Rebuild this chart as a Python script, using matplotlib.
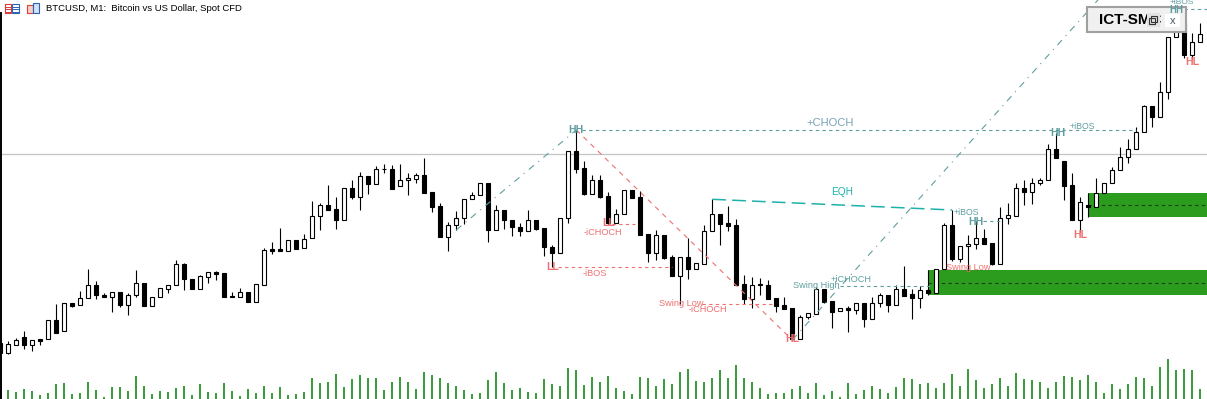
import matplotlib.pyplot as plt
from matplotlib.patches import Rectangle

# one-minute BTCUSD bars (price in chart points, higher = up)
opens = [57, 47.3, 55.3, 62.7, 55.3, 60.7, 60.7, 80, 69.3, 96.7,
         94.7, 101.7, 114.7, 105, 102.7, 107.7, 95.3, 104.7, 116.7, 94.3,
         102.7, 111.3, 114.7, 135.7, 120.7, 111.3, 123.3, 127.7, 126.7, 104,
         103.3, 107.7, 98.3, 115.3, 151, 151, 148.7, 160, 151.7, 162.3,
         183.7, 194.7, 190.7, 180.3, 211.7, 203.3, 223.7, 216.3, 230.7, 230.7,
         214.3, 219.7, 221.3, 225.3, 208, 194, 163.3, 174.7, 181.7, 200.7,
         204.7, 216.7, 169.7, 189.7, 179.7, 172.7, 168.7, 179.7, 172, 152.7,
         146.7, 181.7, 248.7, 231.7, 206.3, 219.7, 204, 177.3, 186.3, 209.7,
         202.7, 166, 147.3, 164.7, 143, 124.3, 143, 131.3, 136.3, 168.7,
         185.7, 176.7, 174.7, 116, 100.7, 115, 115, 101.7, 94.7, 91.7,
         60.7, 82.7, 86.3, 111, 99, 88.7, 92.3, 89.7, 96.7, 81.3,
         96.7, 104.7, 95.3, 111, 106, 101.7, 110, 107.3, 130.7, 174.7,
         141.3, 153.7, 155.7, 161.7, 156.7, 136.5, 181.7, 183.7, 211.7, 208.5,
         217.5, 220, 250.7, 239, 215, 180.3, 195, 193.3, 206.7, 217.3,
         230, 242.7, 250.7, 267.7, 294, 283.3, 307.7, 362.7, 378, 345,
         357.7]
highs = [59, 58.7, 62, 68.7, 60, 60.7, 80, 96, 96.7, 96.7,
         109, 131, 119, 107.3, 107.7, 107.7, 107, 130, 116.7, 102.7,
         111.7, 114.7, 140, 137, 120.7, 125, 127.7, 129, 126.7, 108.3,
         111.7, 107.7, 116, 151.7, 157.7, 172, 160, 160, 166, 199,
         197.3, 215, 203, 211.7, 220, 228, 223.7, 234, 236, 235,
         236, 226.7, 227.3, 242, 208, 196.7, 178, 189, 200.7, 207.7,
         216.7, 216.7, 194.7, 189.7, 179.7, 176.7, 189.7, 179.7, 172, 155,
         181.7, 248.7, 270, 239, 225, 224.7, 208, 191, 209.7, 209.7,
         209, 166, 170, 164.7, 145, 143, 162, 136.7, 174.7, 200.7,
         185.7, 193.7, 181, 125, 122.7, 122.3, 119.7, 101.7, 103, 91.7,
         85, 86.7, 113.3, 111, 99, 91.7, 94, 96.7, 96.7, 103.3,
         107.3, 104.7, 114.7, 133.7, 110.7, 114, 130, 130.7, 177.3, 190,
         153.7, 165, 179.3, 170.7, 156.7, 193.3, 197, 217, 220, 222.3,
         222, 255.7, 266.7, 239, 226.7, 203.3, 206.7, 221.7, 217.3, 233.3,
         253.3, 260.7, 273.3, 295, 294, 318.3, 363.3, 390, 380, 366.7,
         376.7]
lows = [47, 46, 54.7, 50.7, 48.7, 54.7, 60.7, 67.3, 69.3, 92.7,
        94.7, 101.7, 101.3, 102.7, 88.3, 93.3, 85.3, 103, 94.3, 94.3,
        102.7, 107.3, 114.7, 110, 111.3, 111.3, 117.3, 120.3, 103.3, 103,
        103.3, 98.3, 98.3, 115.3, 146.3, 148.7, 148.7, 151.3, 151.7, 162.3,
        170, 190.3, 171, 180.3, 201, 190, 206, 216.3, 227.3, 211.3,
        214.3, 205, 217.3, 207.3, 188.3, 163, 149.3, 170, 176, 200.7,
        204.7, 158.3, 169.7, 170.7, 164.3, 164.3, 168.7, 170, 144.3, 132.7,
        146.7, 177.3, 226.7, 204.7, 206.3, 202, 176, 177.3, 186.3, 202.3,
        165.3, 138.3, 140, 141.3, 124.3, 95.7, 120.7, 131.3, 136.3, 168.7,
        155.3, 169.3, 115.3, 96, 91.7, 105, 101.3, 88.3, 91.3, 60,
        60.7, 80.7, 86.3, 97.3, 72.3, 88.7, 68.3, 86, 73.3, 81.3,
        92.7, 88.3, 95.3, 104.3, 81.3, 91.7, 105, 107.3, 130.7, 139.3,
        138, 130, 151.3, 156.3, 135, 136.5, 176, 183.7, 195, 196.5,
        214.7, 220, 241.7, 200, 180.3, 168.3, 183.3, 193.3, 206.7, 217.3,
        230, 237.3, 250.7, 267.7, 273.3, 283.3, 300.7, 362.7, 342, 341.5,
        357.7]
closes = [47.3, 56, 60, 55.3, 59.7, 59.3, 80, 67.3, 96.7, 94.3,
          101.7, 114.7, 104.7, 102.7, 107.7, 95.3, 104.7, 116.7, 94.3, 102.7,
          111.7, 114.7, 135.7, 120.7, 111.3, 124, 127.7, 126, 103.3, 103,
          107.7, 98.3, 116, 149.7, 149.3, 148.7, 160, 151.3, 161, 183.7,
          194.7, 190.3, 180.3, 211.7, 203, 223.7, 216.3, 230.7, 231, 211.3,
          219.7, 222, 225.3, 207.3, 193.3, 163, 174.7, 181.7, 200.7, 204.7,
          216.7, 169.7, 189.7, 179.7, 172.7, 168.7, 179.7, 171.3, 152.7, 146.7,
          181.7, 248.7, 231.3, 206.3, 219.7, 203, 177.3, 186.3, 209.7, 202.3,
          165.3, 147.3, 164.7, 142.3, 124.3, 143, 131, 136.7, 168.7, 185.7,
          176.3, 174.3, 115.3, 100.7, 115, 115.3, 101.3, 94.3, 91.3, 60.7,
          83, 86.7, 111, 98.3, 88.3, 91.7, 89.7, 96.7, 81.3, 96.7,
          104.7, 95.3, 111, 104.3, 101.7, 109.7, 107.3, 130.7, 174.7, 140.7,
          153.7, 155.7, 161.7, 156.3, 136, 181.7, 184.7, 211.7, 208.5, 217.5,
          220, 250.7, 241.7, 214.3, 180.3, 197.7, 193.3, 206.7, 217.3, 230,
          242.7, 250.7, 267.7, 294, 283.3, 308.3, 363.3, 378, 345, 357.7,
          366]
volumes = [8, 9, 7, 10, 8, 4, 6, 15, 16, 5,
           6, 17, 9, 2, 12, 12, 8, 23, 13, 5,
           8, 7, 11, 13, 4, 15, 7, 6, 16, 8,
           3, 10, 6, 13, 6, 12, 4, 5, 7, 21,
           16, 17, 25, 12, 20, 24, 21, 21, 9, 17,
           22, 17, 10, 27, 24, 21, 16, 13, 9, 5,
           6, 19, 27, 16, 9, 11, 7, 6, 20, 15,
           13, 31, 29, 14, 22, 17, 23, 11, 8, 5,
           22, 21, 13, 20, 15, 27, 30, 18, 17, 21,
           29, 21, 34, 21, 17, 11, 5, 6, 6, 10,
           13, 6, 16, 4, 8, 2, 16, 5, 9, 13,
           10, 6, 12, 21, 20, 15, 16, 11, 16, 25,
           13, 30, 19, 11, 15, 21, 13, 26, 20, 19,
           17, 11, 17, 23, 22, 19, 24, 17, 6, 15,
           10, 15, 22, 21, 13, 32, 40, 29, 30, 29,
           10]

# order blocks start at these bars and run to the right edge
order_blocks = [116, 136]
bid_level = 246

TEAL = '#5f9ea0'
RED = '#ee7070'
CHOCH = '#77a2b4'
EQH_C = '#20b2aa'
OB_GREEN = '#2c9c1f'
FONT = 'Liberation Sans'

fig = plt.figure(figsize=(12.07, 3.99), dpi=100, facecolor='white')
ax_vol = fig.add_axes([0, 0, 1, 1])
ax = fig.add_axes([0, 0, 1, 1])
ui = fig.add_axes([0, 0, 1, 1])
for a in (ax_vol, ax, ui):
    a.set_axis_off()

x_lo = -0.0375
x_hi = x_lo + 1207 / 8
xs = list(range(len(opens)))
for a in (ax_vol, ax):
    a.set_xlim(x_lo, x_hi)
ax.set_ylim(1, 400)
ax_vol.set_ylim(0, 399)
ui.set_xlim(0, 1207)
ui.set_ylim(399, 0)

# volumes
ax_vol.vlines(xs, 0, volumes, color='#008000', lw=1.1)

# bid line
ax.axhline(bid_level, color='#c4c4c4', lw=0.9, zorder=1)

# order blocks
for k in order_blocks:
    ax.add_patch(Rectangle((k, lows[k]), x_hi - k, highs[k] - lows[k],
                           facecolor=OB_GREEN, edgecolor='none', zorder=2))
    ax.hlines((lows[k] + highs[k]) / 2, k, x_hi, colors='#173f10',
              linestyles=(0, (3, 3)), lw=0.8, zorder=2.5)

# candles
bottoms = [min(o, c) for o, c in zip(opens, closes)]
heights = [max(abs(c - o), 0.6) for o, c in zip(opens, closes)]
colors = ['white' if c >= o else 'black' for o, c in zip(opens, closes)]
ax.vlines(xs, lows, highs, color='black', lw=0.8, zorder=3)
ax.bar(xs, heights, bottom=bottoms, width=0.52, color=colors,
       edgecolor='black', linewidth=0.8, zorder=4)

# market structure zigzag
ax.plot([57, 72], [lows[57], highs[72]], color=TEAL, lw=0.8,
        ls=(0, (6, 5, 1, 5)), zorder=5)
ax.plot([72, 99], [highs[72], lows[99]], color=RED, lw=0.8,
        ls=(0, (4.5, 4.5)), zorder=5)
ax.plot([99, 139], [lows[99], 416], color=TEAL, lw=0.8,
        ls=(0, (6, 5, 1, 5)), zorder=5)

# equal highs
ax.plot([89, 119], [highs[89], highs[119]], color=EQH_C, lw=1.1,
        ls=(0, (9, 4)), zorder=5)

# structure break lines
dash = (0, (3, 3))
ax.hlines(269.7, 72.7, 142, colors=TEAL, linestyles=dash, lw=0.8, zorder=5)
ax.hlines(lows[69], 69.7, 84, colors=RED, linestyles=dash, lw=0.8, zorder=5)
ax.hlines(lows[76], 76.5, 79.3, colors=RED, linestyles=dash, lw=0.8, zorder=5)
ax.hlines(96, 87.7, 96.6, colors=RED, linestyles=dash, lw=0.8, zorder=5)
ax.hlines(114, 105, 116.6, colors=TEAL, linestyles=dash, lw=0.8, zorder=5)
ax.hlines(179, 122.8, 125, colors=TEAL, linestyles=dash, lw=0.8, zorder=5)
ax.hlines(391, 147.9, x_hi, colors=TEAL, linestyles=dash, lw=0.8, zorder=5)


def label(x, p, s, color, size=6.6, bold=False, on=None, z=6):
    # labels near the panel are drawn on the top layer, still in price coords
    host = on if on is not None else ax
    host.text(x, p, s, color=color, fontsize=size, family=FONT,
              fontweight='bold' if bold else 'normal', transform=ax.transData,
              ha='center', va='center', zorder=z)


label(72, 270, 'HH', TEAL, 7.5, True)
label(103.7, 276.7, '+CHOCH', CHOCH, 8)
label(69, 133.3, 'LL', RED, 7.5, True)
label(74.3, 126.7, '-iBOS', RED)
label(76, 177, 'LL', RED, 7.5, True)
label(75.3, 167.5, '-iCHOCH', RED)
label(85.1, 96.7, 'Swing Low', RED)
label(88.4, 90, '-iCHOCH', RED)
label(99, 60.5, 'HL', RED, 7.5, True)
label(102, 114, 'Swing High', TEAL)
label(106.3, 120, '+iCHOCH', TEAL)
label(105.2, 207.7, 'EQH', EQH_C, 7.3)
label(120.8, 187.5, '+iBOS', TEAL, 6.3)
label(122, 178, 'HH', TEAL, 7.5, True)
label(121, 133, 'Swing Low', RED)
label(132.2, 266.5, 'HH', TEAL, 7.5, True)
label(135.3, 273.5, '+iBOS', TEAL, 6.3)
label(135, 165, 'HL', RED, 7.5, True)
label(149, 338.3, 'HL', RED, 7.5, True)

# window chrome: left border, title, icons
ui.plot([0.6, 0.6], [13, 399], color='black', lw=1.4)
ui.add_patch(Rectangle((5, 4), 6, 9, fc='white', ec='#d83a3a', lw=0.8))
ui.add_patch(Rectangle((12, 4), 7, 9, fc='white', ec='#2a62b8', lw=0.8))
for yy in (6.5, 9, 11.5):
    ui.plot([6, 10], [yy, yy], color='#d83a3a', lw=0.7)
    ui.plot([13, 18], [yy, yy], color='#2a62b8', lw=0.7)
ui.add_patch(Rectangle((27, 5), 6, 8, fc='#f6cfc6', ec='#d84040', lw=0.8))
ui.add_patch(Rectangle((33, 3), 6, 10, fc='#cfe2f6', ec='#2a62b8', lw=0.8))
ui.text(46, 8.5, 'BTCUSD, M1:  Bitcoin vs US Dollar, Spot CFD', fontsize=6.8,
        family=FONT, color='black', ha='left', va='center')

# indicator panel
ui.add_patch(Rectangle((1086.5, 7.3), 99, 25, fc='#f0f0f0', ec='#a0a0a0',
                       lw=1.5, zorder=10))
ui.text(1099, 20, 'ICT-SMC', fontsize=11, fontweight='bold', family=FONT,
        color='black', ha='left', va='center', zorder=11)
ui.add_patch(Rectangle((1146.5, 13), 13, 14, fc='#e2e2e2', ec='none', zorder=12))
ui.add_patch(Rectangle((1148.5, 18), 6, 6, fc='none', ec='#333333', lw=0.8, zorder=13))
ui.add_patch(Rectangle((1151, 15.5), 6, 6, fc='none', ec='#333333', lw=0.8, zorder=13))
ui.add_patch(Rectangle((1165, 13.5), 15, 13.5, fc='white', ec='none', zorder=12))
ui.text(1172.5, 21, 'x', fontsize=8, family=FONT, color='#4a5566',
        ha='center', va='center', zorder=13)

# the newest HH sits over the panel edge
label(147, 390, 'HH', TEAL, 7, True, on=ui, z=14)
label(147.7, 397.2, '+iBOS', TEAL, 6.0, on=ui, z=14)

fig.savefig('out.png', dpi=100, facecolor='white')
